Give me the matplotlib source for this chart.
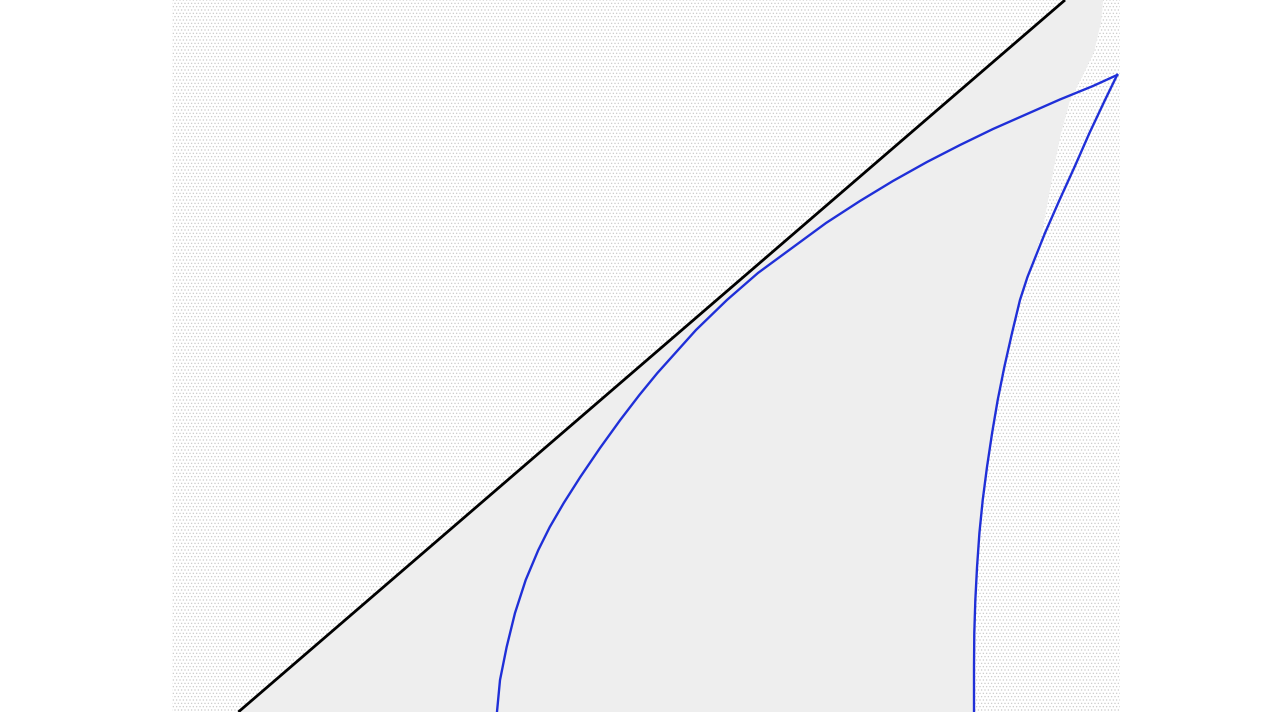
import numpy as np
import matplotlib.pyplot as plt
from matplotlib.patches import Rectangle

# straight boundary line (black)
line_x = [0.070, 0.942]
line_y = [0.0, 1.0]

# upper blue curve
upper_x = [0.3428, 0.3460, 0.3530, 0.3618, 0.3731, 0.3864, 0.3985, 0.4132, 0.4307, 0.4515, 0.4728, 0.4930,
           0.5120, 0.5527, 0.5854, 0.6181, 0.6540, 0.6899, 0.7257, 0.7605, 0.7964, 0.8312, 0.8660, 0.9019,
           0.9367, 0.9715, 0.9970]
upper_y = [0.0000, 0.0449, 0.0913, 0.1390, 0.1854, 0.2275, 0.2598, 0.2935, 0.3301, 0.3708, 0.4101, 0.4452,
           0.4761, 0.5365, 0.5787, 0.6166, 0.6517, 0.6868, 0.7177, 0.7458, 0.7725, 0.7963, 0.8188, 0.8399,
           0.8603, 0.8792, 0.8947]

# right blue curve
right_x = [0.8460, 0.8460, 0.8463, 0.8474, 0.8492, 0.8517, 0.8552, 0.8597, 0.8651, 0.8710, 0.8780, 0.8861,
           0.8945, 0.9024, 0.9209, 0.9362, 0.9520, 0.9678, 0.9842, 0.9970]
right_y = [0.0000, 0.0632, 0.1110, 0.1573, 0.2037, 0.2514, 0.2978, 0.3441, 0.3919, 0.4382, 0.4846, 0.5323,
           0.5787, 0.6110, 0.6728, 0.7191, 0.7654, 0.8132, 0.8596, 0.8947]

# right edge of the shaded region
edge_x = [0.8460, 0.8460, 0.8463, 0.8474, 0.8492, 0.8517, 0.8552, 0.8597, 0.8651, 0.8710, 0.8780, 0.8861,
          0.8945, 0.9024, 0.9114, 0.9177, 0.9241, 0.9304, 0.9378, 0.9473, 0.9599, 0.9726, 0.9800, 0.9821]
edge_y = [0.0000, 0.0632, 0.1110, 0.1573, 0.2037, 0.2514, 0.2978, 0.3441, 0.3919, 0.4382, 0.4846, 0.5323,
          0.5787, 0.6110, 0.6461, 0.6728, 0.7191, 0.7654, 0.8132, 0.8596, 0.8919, 0.9270, 0.9691, 1.0000]

plt.rcParams['hatch.linewidth'] = 0.5

fig = plt.figure(figsize=(12.8, 7.2), dpi=100)
ax = fig.add_axes([172 / 1280, 8 / 720, 948 / 1280, 712 / 720])
ax.set_xlim(0, 1)
ax.set_ylim(0, 1)
ax.axis('off')

# dotted background
bg = Rectangle((0, 0), 1, 1, transform=ax.transAxes, facecolor='white',
               edgecolor='#cccccc', hatch='.....', linewidth=0, zorder=0)
ax.add_patch(bg)

# shaded region between the line and the right edge
poly_x = line_x + edge_x[::-1]
poly_y = line_y + edge_y[::-1]
ax.fill(poly_x, poly_y, color='#eeeeee', linewidth=0, zorder=1)

ax.plot(line_x, line_y, color='black', linewidth=2.0, zorder=3, solid_capstyle='butt')
ax.plot(upper_x, upper_y, color='#1f2fd8', linewidth=1.7, zorder=3, solid_joinstyle='round')
ax.plot(right_x, right_y, color='#1f2fd8', linewidth=1.7, zorder=3, solid_joinstyle='round')

fig.savefig('out.png', dpi=100)
